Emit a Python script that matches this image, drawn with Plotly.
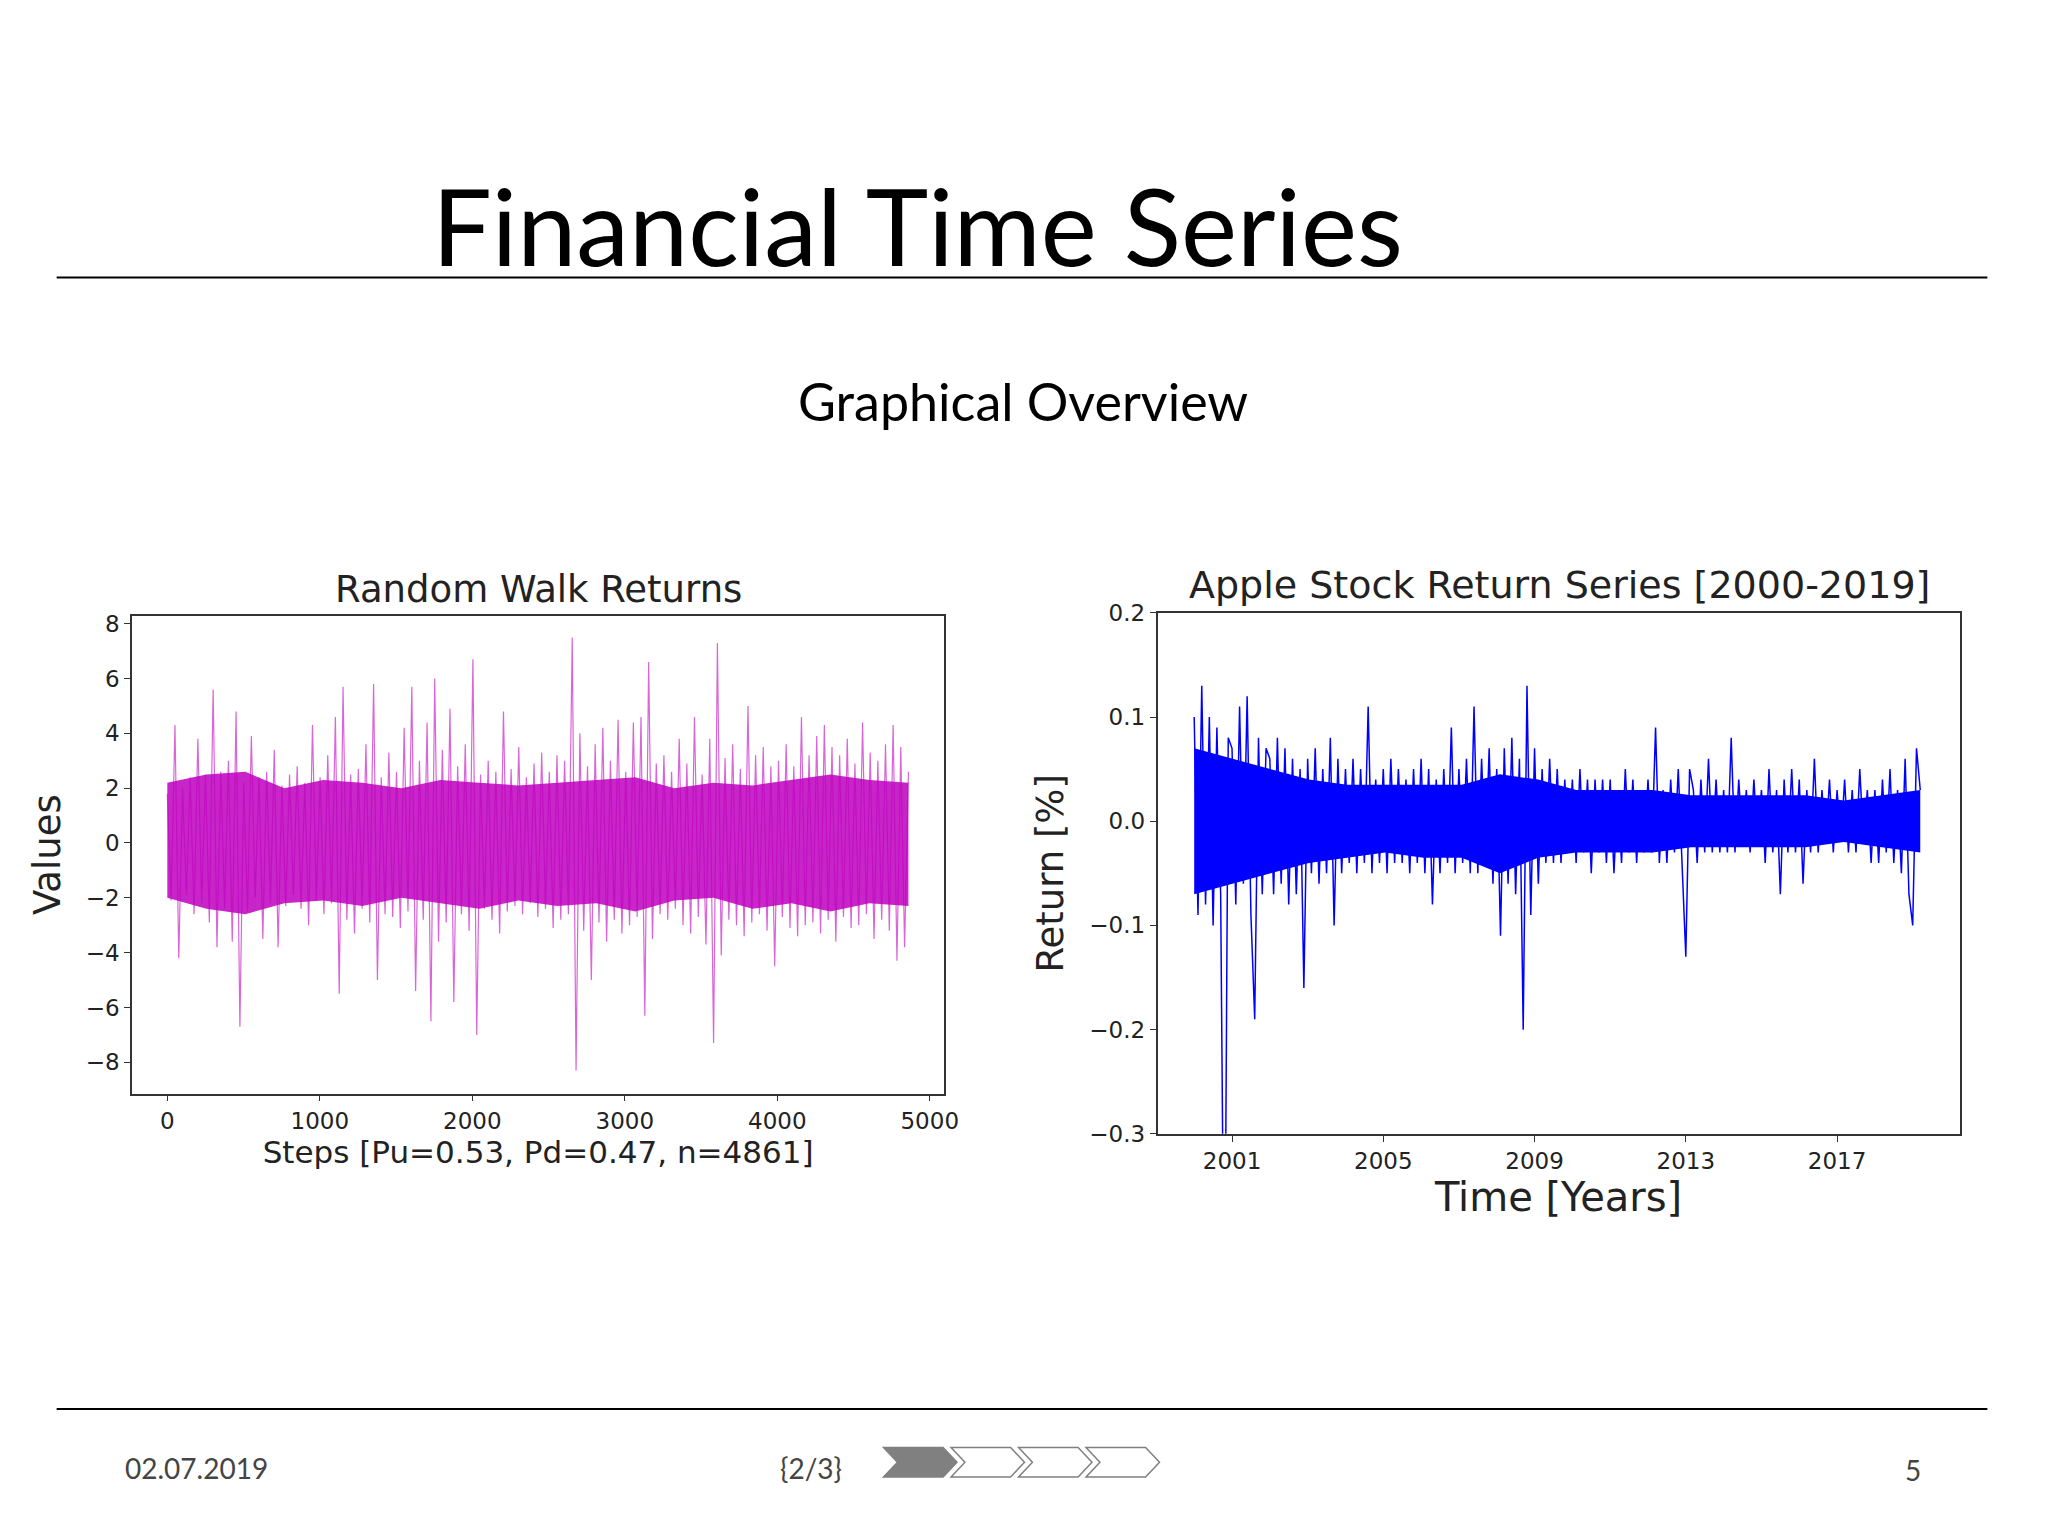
import plotly.graph_objects as go
import numpy as np

W, H = 2048, 1536

rw_values = [
    1.8, -2.1, 4.3, -4.2, 2.0, -1.9, 2.4, -2.6, 3.8, -2.2,
    2.5, -2.9, 5.6, -3.8, 2.6, -2.4, 3.0, -3.6, 4.8, -6.7,
    2.2, -2.5, 3.9, -2.0, 2.4, -3.5, 2.6, -2.2, 3.4, -3.8,
    2.1, -2.3, 2.5, -1.9, 2.8, -2.4, 2.2, -3.0, 4.3, -2.1,
    2.4, -2.6, 3.2, -2.2, 4.6, -5.5, 5.7, -2.8, 2.5, -3.3,
    2.7, -2.4, 3.6, -2.9, 5.8, -5.0, 2.4, -2.6, 3.3, -2.7,
    2.6, -3.1, 4.2, -2.5, 5.7, -5.4, 3.0, -2.8, 4.4, -6.5,
    6.0, -3.6, 3.4, -2.9, 4.9, -5.8, 2.8, -2.6, 3.6, -3.2,
    6.7, -7.0, 2.5, -2.4, 3.0, -2.8, 2.6, -3.3, 4.8, -2.5,
    2.7, -2.3, 3.5, -2.6, 2.4, -2.2, 2.9, -2.7, 3.3, -2.4,
    2.6, -3.1, 3.2, -2.8, 3.0, -2.6, 7.5, -8.3, 4.0, -3.2,
    2.8, -5.0, 3.6, -2.9, 4.2, -3.6, 3.0, -2.8, 4.5, -3.3,
    2.6, -3.0, 4.4, -2.7, 4.6, -6.3, 6.6, -3.5, 2.9, -2.6,
    3.2, -2.8, 2.6, -2.4, 3.8, -3.0, 2.9, -3.3, 4.6, -2.7,
    2.5, -3.7, 3.8, -7.3, 7.3, -4.1, 3.1, -2.8, 3.6, -3.0,
    2.7, -3.4, 5.0, -2.9, 3.2, -2.6, 3.5, -3.2, 2.8, -4.5,
    3.0, -2.7, 3.6, -3.1, 2.8, -3.4, 4.6, -3.0, 3.2, -2.9,
    3.9, -3.3, 4.3, -2.8, 3.5, -3.6, 3.2, -2.7, 3.8, -3.1,
    2.9, -3.0, 4.4, -2.6, 3.3, -3.5, 3.0, -2.8, 3.6, -3.2,
    4.3, -4.3, 3.5, -3.8, 2.6,
]
rw_steps = np.linspace(0, 4860, len(rw_values))

# dense core band of the random walk (envelope every ~250 steps)
rw_core_upper = [2.2, 2.5, 2.6, 2.0, 2.3, 2.2, 2.0, 2.3, 2.2, 2.1,
                 2.2, 2.3, 2.4, 2.0, 2.2, 2.1, 2.3, 2.5, 2.3, 2.2]
rw_core_lower = [-2.0, -2.4, -2.6, -2.2, -2.1, -2.3, -2.0, -2.2, -2.4, -2.1,
                 -2.3, -2.2, -2.5, -2.1, -2.0, -2.4, -2.2, -2.5, -2.2, -2.3]
rw_core_steps = np.linspace(0, 4860, len(rw_core_upper))

aapl_values = [
    0.10, -0.09, 0.13, -0.08, 0.10, -0.10, 0.09, -0.07, -0.52, 0.08,
    0.07, -0.08, 0.11, -0.06, 0.12, -0.09, -0.19, 0.08, -0.07, 0.07,
    0.06, -0.07, 0.08, -0.06, 0.07, -0.08, 0.06, -0.07, 0.05, -0.16,
    0.06, -0.05, 0.07, -0.06, 0.05, -0.05, 0.08, -0.10, 0.06, -0.05,
    0.05, -0.04, 0.06, -0.05, 0.05, -0.04, 0.11, -0.05, 0.04, -0.04,
    0.05, -0.05, 0.06, -0.04, 0.05, -0.04, 0.04, -0.05, 0.05, -0.04,
    0.06, -0.05, 0.05, -0.08, 0.04, -0.05, 0.05, -0.04, 0.09, -0.05,
    0.05, -0.04, 0.06, -0.05, 0.11, -0.05, 0.06, -0.04, 0.07, -0.06,
    0.05, -0.11, 0.07, -0.06, 0.08, -0.07, 0.06, -0.20, 0.13, -0.09,
    0.07, -0.06, 0.05, -0.04, 0.06, -0.04, 0.05, -0.04, 0.04, -0.03,
    0.04, -0.04, 0.05, -0.03, 0.04, -0.05, 0.04, -0.03, 0.04, -0.04,
    0.04, -0.05, 0.03, -0.04, 0.05, -0.03, 0.04, -0.04, 0.03, -0.03,
    0.04, -0.03, 0.09, -0.04, 0.03, -0.04, 0.04, -0.03, 0.05, -0.04,
    -0.13, 0.05, 0.03, -0.04, 0.04, -0.03, 0.06, -0.03, 0.04, -0.03,
    0.03, -0.03, 0.08, -0.03, 0.04, -0.02, 0.03, -0.03, 0.04, -0.02,
    0.03, -0.04, 0.05, -0.03, 0.03, -0.07, 0.04, -0.03, 0.05, -0.03,
    0.04, -0.06, 0.03, -0.03, 0.06, -0.03, 0.03, -0.02, 0.04, -0.03,
    0.03, -0.02, 0.04, -0.03, 0.03, -0.03, 0.05, -0.02, 0.03, -0.04,
    0.03, -0.04, 0.04, -0.03, 0.05, -0.04, 0.03, -0.05, 0.06, -0.07,
    -0.10, 0.07, 0.03,
]
aapl_years = np.linspace(2000.0, 2019.2, len(aapl_values))

# dense core band of the Apple returns (envelope per year)
aapl_core_upper = [0.07, 0.06, 0.05, 0.04, 0.035, 0.035, 0.035, 0.035, 0.045, 0.04,
                   0.03, 0.03, 0.03, 0.025, 0.025, 0.025, 0.025, 0.02, 0.025, 0.03]
aapl_core_lower = [-0.07, -0.06, -0.05, -0.04, -0.035, -0.03, -0.035, -0.035, -0.05, -0.035,
                   -0.03, -0.03, -0.03, -0.025, -0.025, -0.025, -0.025, -0.02, -0.025, -0.03]
aapl_core_years = np.linspace(2000.0, 2019.2, len(aapl_core_upper))
year_ticks = [2001, 2005, 2009, 2013, 2017]

PLOT_FONT = "DejaVu Sans"
SLIDE_FONT = "Lato"


def band(xs, upper, lower):
    xs = list(xs)
    return xs + xs[::-1], list(upper) + list(lower)[::-1]


fig = go.Figure()
bx, by = band(rw_core_steps, rw_core_upper, rw_core_lower)
fig.add_trace(go.Scatter(x=bx, y=by, fill='toself', fillcolor='rgba(190,0,190,0.85)',
                         line=dict(width=0), mode='lines', hoverinfo='skip',
                         xaxis='x', yaxis='y', showlegend=False))
fig.add_trace(go.Scatter(x=rw_steps, y=rw_values, mode='lines',
                         line=dict(color='#c000c0', width=1.2), opacity=0.6,
                         xaxis='x', yaxis='y', showlegend=False))
bx, by = band(aapl_core_years, aapl_core_upper, aapl_core_lower)
fig.add_trace(go.Scatter(x=bx, y=by, fill='toself', fillcolor='#0000ff',
                         line=dict(width=0), mode='lines', hoverinfo='skip',
                         xaxis='x2', yaxis='y2', showlegend=False))
fig.add_trace(go.Scatter(x=aapl_years, y=aapl_values, mode='lines',
                         line=dict(color='#0000ff', width=1.5),
                         xaxis='x2', yaxis='y2', showlegend=False))

axis_style = dict(showline=True, linecolor='#333', linewidth=1.5, mirror=True,
                  showgrid=False, zeroline=False, ticks='outside', ticklen=6,
                  tickcolor='#333', tickfont=dict(family=PLOT_FONT, size=23, color='#222'))

fig.update_layout(
    width=W, height=H, margin=dict(l=0, r=0, t=0, b=0),
    paper_bgcolor='white', plot_bgcolor='white',
    xaxis=dict(domain=[125/W, 943/W], range=[-231, 5094], tickvals=[0, 1000, 2000, 3000, 4000, 5000],
               title=dict(text='Steps [Pu=0.53, Pd=0.47, n=4861]', font=dict(family=PLOT_FONT, size=31, color='#222'), standoff=6),
               anchor='y', **axis_style),
    yaxis=dict(domain=[1-1091/H, 1-605/H], range=[-9.14, 8.29], tickvals=list(range(-8, 9, 2)),
               title=dict(text='Values', font=dict(family=PLOT_FONT, size=37, color='#222'), standoff=14),
               anchor='x', **axis_style),
    xaxis2=dict(domain=[1158/W, 1966/W], range=[1999.03, 2020.24], tickvals=year_ticks,
                title=dict(text='Time [Years]', font=dict(family=PLOT_FONT, size=40, color='#222'), standoff=6),
                anchor='y2', **axis_style),
    yaxis2=dict(domain=[1-1132/H, 1-602/H], range=[-0.3, 0.2], tickvals=[-0.3, -0.2, -0.1, 0.0, 0.1, 0.2],
                ticktext=['\u22120.3', '\u22120.2', '\u22120.1', '0.0', '0.1', '0.2'],
                title=dict(text='Return [%]', font=dict(family=PLOT_FONT, size=37, color='#222'), standoff=14),
                anchor='x2', **axis_style),
)


def px(x, y):
    return x / W, 1 - y / H


def text(s, x, y, size, xanchor='center', font=SLIDE_FONT, color='black'):
    fx, fy = px(x, y)
    fig.add_annotation(text=s, x=fx, y=fy, xref='paper', yref='paper', showarrow=False,
                       xanchor=xanchor, yanchor='middle', font=dict(family=font, size=size, color=color))


text('Financial Time Series', 425, 208, 106, xanchor='left')
text('Graphical Overview', 1022, 387, 52)
text('Random Walk Returns', 534, 578, 37, font=PLOT_FONT, color='#222')
text('Apple Stock Return Series [2000-2019]', 1563, 574, 38, font=PLOT_FONT, color='#222')
text('02.07.2019', 116, 1472, 28, xanchor='left', color='#444')
text('{2/3}', 809, 1472, 28, color='#444')
text('5', 1919, 1474, 28, color='#444')

# horizontal rules
for yy in (261, 1412):
    fig.add_shape(type='line', xref='paper', yref='paper', x0=49/W, x1=1994/W,
                  y0=1-yy/H, y1=1-yy/H, line=dict(color='black', width=2))

# progress chevrons
for i, x0 in enumerate([882, 950, 1018, 1086]):
    pts = [(x0, 1451), (x0+60, 1451), (x0+74, 1466), (x0+60, 1481), (x0, 1481), (x0+14, 1466)]
    path = 'M ' + ' L '.join(f'{px(a, b)[0]:.5f},{px(a, b)[1]:.5f}' for a, b in pts) + ' Z'
    fig.add_shape(type='path', xref='paper', yref='paper', path=path,
                  fillcolor='#808080' if i == 0 else 'white', line=dict(color='#808080', width=1.5))

fig.write_html("out.html")
